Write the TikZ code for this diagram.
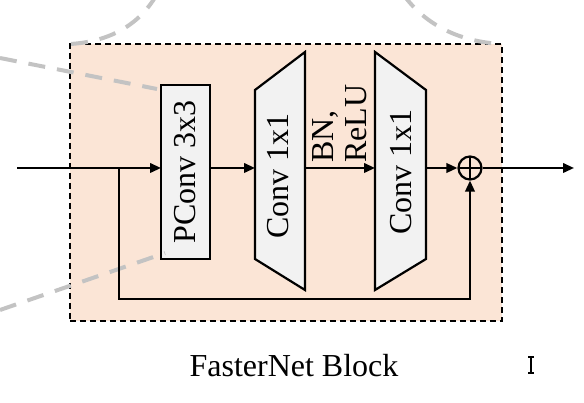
\documentclass[tikz,border=0pt]{standalone}
\usepackage{fontspec}
\setmainfont{Liberation Serif}
\usetikzlibrary{arrows.meta,calc}
\definecolor{peach}{HTML}{FBE5D6}
\definecolor{blk}{HTML}{F2F2F2}
\definecolor{zoomgray}{HTML}{C3C3C3}
\begin{document}
\begin{tikzpicture}[x=1pt,y=-1pt,
  lbl/.style={font=\fontsize{32}{33}\selectfont, inner sep=0pt},
  arr/.style={line width=2.2pt, -{Triangle[length=11pt,width=9.5pt]}},
  blockfill/.style={fill=blk, draw=black, line width=2.2pt, line join=miter},
  ghost/.style={inner sep=0pt, outer sep=0pt, minimum width=50pt, minimum height=238pt},
  zoomline/.style={draw=zoomgray, line width=4pt, dash pattern=on 17pt off 12pt},
  outerbox/.style={draw=black, fill=peach, dash pattern=on 6pt off 4pt, line width=1.8pt, inner sep=0pt, outer sep=0pt}]
\useasboundingbox (0,0) rectangle (584,403);
% block background
\node[outerbox, minimum width=432pt, minimum height=277pt] (blk) at (286,182.5) {};
% zoom guide lines
\coordinate (zl1) at (0,58);
\coordinate (zl1e) at (157,89);
\coordinate (zl2) at (0,310);
\coordinate (zl2e) at (165,253);
\draw[zoomline] (157,-6) .. controls (138,28) and (105,42) .. (blk.north west);
\draw[zoomline] (403,-6) .. controls (425,25) and (460,42) .. (blk.north east);
\draw[zoomline] (zl1) -- (zl1e);
% PConv
\node[blockfill, minimum width=49pt, minimum height=174pt, inner sep=0pt, outer sep=0pt] (pc) at (185.5,172) {};
\node[lbl, rotate=90] (pct) at (pc.center) {PConv 3x3};
\draw[zoomline] (zl2) -- (zl2e);
% Conv 1
\node[ghost] (c1) at (280,171) {};
\draw[blockfill] (c1.north east) -- (c1.south east) -- ($(c1.south west)+(0,-31)$) -- ($(c1.north west)+(0,38)$) -- cycle;
\node[lbl, rotate=90] (c1t) at (278,176) {Conv 1x1};
% Conv 2
\node[ghost, minimum width=51pt] (c2) at (400.5,171) {};
\draw[blockfill] (c2.north west) -- ($(c2.north east)+(0,38)$) -- ($(c2.south east)+(0,-31)$) -- (c2.south west) -- cycle;
\node[lbl, rotate=90] (c2t) at (401,172) {Conv 1x1};
% BN ReLU
\node[lbl, rotate=90, align=left, anchor=north west] (bn) at (312,163) {BN,\\ReLU};
% sum
\node[circle, draw, line width=2.2pt, minimum size=23pt, inner sep=0pt,
  path picture={\draw[line width=2.2pt] (path picture bounding box.north) -- (path picture bounding box.south) (path picture bounding box.west) -- (path picture bounding box.east);}] (sum) at (470,168) {};
% coordinates
\coordinate (in) at (17,168);
\coordinate (br) at (119,168);
\coordinate (loop) at (119,299);
\coordinate (out) at (574,168);
% connectors
\draw[arr] (in) -- (in -| pc.west);
\draw[arr] (in -| pc.east) -- (in -| c1.west);
\draw[arr] (in -| c1.east) -- (in -| c2.west);
\draw[arr] (in -| c2.east) -- (sum.west);
\draw[arr] (sum.east) -- (out);
\draw[arr, line join=miter] (br) -- (loop) -| (sum.south);
% caption
\node[lbl, anchor=base] (cap) at (294,377) {FasterNet Block};
% text cursor
\draw[line width=1.2pt] (528,357) -- (534,357) (531,357) -- (531,373) (528,373) -- (534,373);
\end{tikzpicture}
\end{document}
